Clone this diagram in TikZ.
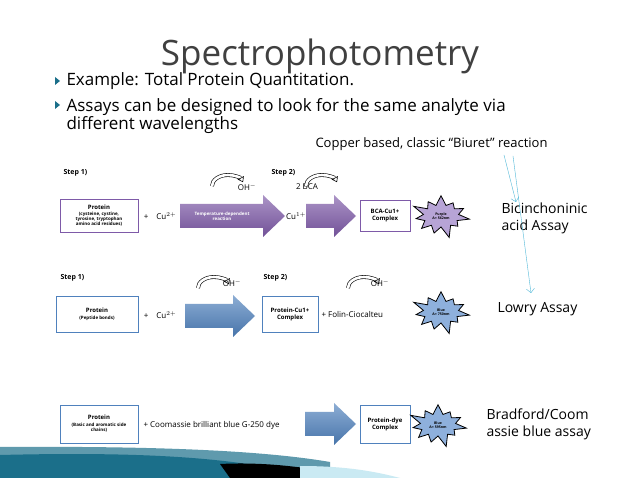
\documentclass[tikz,border=0pt]{standalone}
\usepackage{fontspec}
\setmainfont{Open Sans}
\usepackage{tikz}
\usetikzlibrary{shapes.symbols, arrows.meta, positioning}
\definecolor{bcapurple}{HTML}{7E5AA8}
\definecolor{starpurple}{HTML}{B7A4D6}
\definecolor{lowryblue}{HTML}{4F81BD}
\definecolor{starblue}{HTML}{8EB0DC}
\definecolor{biuretcyan}{HTML}{4FB8D8}
\definecolor{slideteal}{HTML}{1B6F8A}
% fat arrow: x start, x end, y centre, colour
\newcommand{\fatarrow}[4]{%
  \shade[top color=#4!65, bottom color=#4!90!black]
    (#1,#3-12) -- (#2-22,#3-12) -- (#2-22,#3-21) -- (#2,#3) -- (#2-22,#3+21)
    -- (#2-22,#3+12) -- (#1,#3+12) -- cycle;}
\tikzset{
  stepbox/.style={draw, line width=0.9pt, fill=white, align=center, font=\fontsize{6}{7}\selectfont\bfseries, inner sep=2pt},
  burst/.style={starburst, starburst points=11, starburst point height=13pt, draw, thick, align=center, font=\fontsize{3.5}{4}\selectfont\bfseries, minimum width=58pt, minimum height=48pt, inner sep=4pt},
  chem/.style={font=\fontsize{8}{9}\selectfont},
  steplbl/.style={font=\fontsize{7}{8}\selectfont\bfseries, anchor=west},
  hook/.style={double=white, double distance=2.6pt, line width=0.6pt},
  side/.style={font=\fontsize{14}{17}\selectfont, align=left, anchor=west}
}
\begin{document}
\begin{tikzpicture}[x=1pt, y=-1pt]
    \useasboundingbox (0,0) rectangle (638,478);
    \fill[white] (0,0) rectangle (638,478);

    % Title and bullets
    \node[font=\fontsize{35}{38}\selectfont, text=black!75] (title) at (320,56) {Spectrophotometry};
    \fill[slideteal] (55,77) -- (60,81) -- (55,85) -- cycle;
    \fill[slideteal] (55,101) -- (60,105) -- (55,109) -- cycle;
    \node[anchor=west, font=\fontsize{17}{17}\selectfont] (ex) at (63,81) {Example: Total Protein Quantitation.};
    \node[anchor=north west, align=left, font=\fontsize{17}{15}\selectfont] (assay) at (63,95) {Assays can be designed to look for the same analyte via\\different wavelengths};
    \node[anchor=west, font=\fontsize{13}{15}\selectfont] (biuret) at (312,144) {Copper based, classic “Biuret” reaction};

    % BCA row
    \node[steplbl] (s1a) at (60,173) {Step 1)};
    \node[steplbl] (s2a) at (268,173) {Step 2)};
    \node[stepbox, draw=bcapurple, minimum width=78pt, minimum height=33pt] (protA) at (99,216) {Protein\\[-1pt]{\fontsize{4.5}{5}\selectfont (cysteine, cystine,}\\[-2pt]{\fontsize{4.5}{5}\selectfont tyrosine, tryptophan}\\[-2pt]{\fontsize{4.5}{5}\selectfont amino acid residues)}};
    \node[chem] (cuA) at (160,216) {+\quad Cu$^{2+}$};
    \fatarrow{180}{285}{216}{bcapurple}
    \node[text=white, font=\fontsize{4.5}{5}\selectfont\bfseries, align=center] (arrA) at (222,216) {Temperature-dependent\\reaction};
    \node[chem] (cu1A) at (296,216) {Cu$^{1+}$};
    \fatarrow{306}{356}{216}{bcapurple}
    \node[stepbox, draw=bcapurple, minimum width=50pt, minimum height=31pt] (bcaC) at (385,216) {BCA-Cu1+\\Complex};
    \node[burst, fill=starpurple] (starA) at (441,216) {Purple\\A= 562nm};
    \node[chem] (ohA) at (247,187) {OH$^{-}$};
    \node[chem] (bcaR) at (307,187) {2 BCA};
    \draw[hook, -{Triangle[open, length=5pt, width=7pt]}] (212,186) arc[start angle=180, end angle=340, x radius=16pt, y radius=-11pt];
    \draw[hook, -{Triangle[open, length=5pt, width=7pt]}] (306,186) arc[start angle=180, end angle=340, x radius=16pt, y radius=-11pt];
    \node[side] (bcaT) at (498,218) {Bicinchoninic\\acid Assay};

    % Lowry row
    \node[steplbl] (s1b) at (57,278) {Step 1)};
    \node[steplbl] (s2b) at (260,278) {Step 2)};
    \node[stepbox, draw=lowryblue, minimum width=82pt, minimum height=36pt] (protB) at (97,314) {Protein\\{\fontsize{4.5}{5}\selectfont (Peptide bonds)}};
    \node[chem] (cuB) at (160,315) {+\quad Cu$^{2+}$};
    \fatarrow{185}{255}{316}{lowryblue}
    \node[stepbox, draw=lowryblue, minimum width=56pt, minimum height=36pt] (cuC) at (290,314) {Protein-Cu1+\\Complex};
    \node[chem, anchor=west] (folin) at (318,315) {+ Folin-Ciocalteu};
    \node[burst, fill=starblue] (starB) at (441,312) {Blue\\A= 750nm};
    \node[chem] (ohB) at (232,283) {OH$^{-}$};
    \node[chem] (ohC) at (380,283) {OH$^{-}$};
    \draw[hook, -{Triangle[open, length=5pt, width=7pt]}] (198,288) arc[start angle=180, end angle=340, x radius=16pt, y radius=-11pt];
    \draw[hook, -{Triangle[open, length=5pt, width=7pt]}] (348,288) arc[start angle=180, end angle=340, x radius=16pt, y radius=-11pt];
    \node[side] (lowryT) at (494,309) {Lowry Assay};

    % Bradford row
    \node[stepbox, draw=lowryblue, minimum width=78pt, minimum height=38pt] (protC) at (99,424) {Protein\\{\fontsize{4.5}{5}\selectfont (Basic and aromatic side}\\[-2pt]{\fontsize{4.5}{5}\selectfont chains)}};
    \node[chem, anchor=west] (dye) at (140,425) {+\ Coomassie brilliant blue G-250 dye};
    \fatarrow{305}{356}{424}{lowryblue}
    \node[stepbox, draw=lowryblue, minimum width=50pt, minimum height=38pt] (dyeC) at (385,424) {Protein-dye\\Complex};
    \node[burst, fill=starblue] (starC) at (438,425) {Blue\\A= 595nm};
    \node[side] (bradT) at (483,424) {Bradford/Coom\\assie blue assay};

    % Biuret pointers
    \draw[biuretcyan, -{Straight Barb[length=4pt]}] (504,155) -- (516,202);
    \draw[biuretcyan, -{Straight Barb[length=4pt]}] (513,156) -- (531,293);

    % Slide footer band
    \fill[slideteal!70] (0,447) .. controls (150,446) and (260,450) .. (330,462) -- (330,478) -- (0,478) -- cycle;
    \fill[slideteal] (0,455) .. controls (120,452) and (200,456) .. (260,466) -- (260,478) -- (0,478) -- cycle;
    \fill[black] (220,464) .. controls (260,462) and (300,466) .. (340,474) -- (340,478) -- (230,478) -- cycle;
    \fill[biuretcyan!30] (300,466) .. controls (340,466) and (370,470) .. (400,478) -- (300,478) -- cycle;
\end{tikzpicture}
\end{document}
